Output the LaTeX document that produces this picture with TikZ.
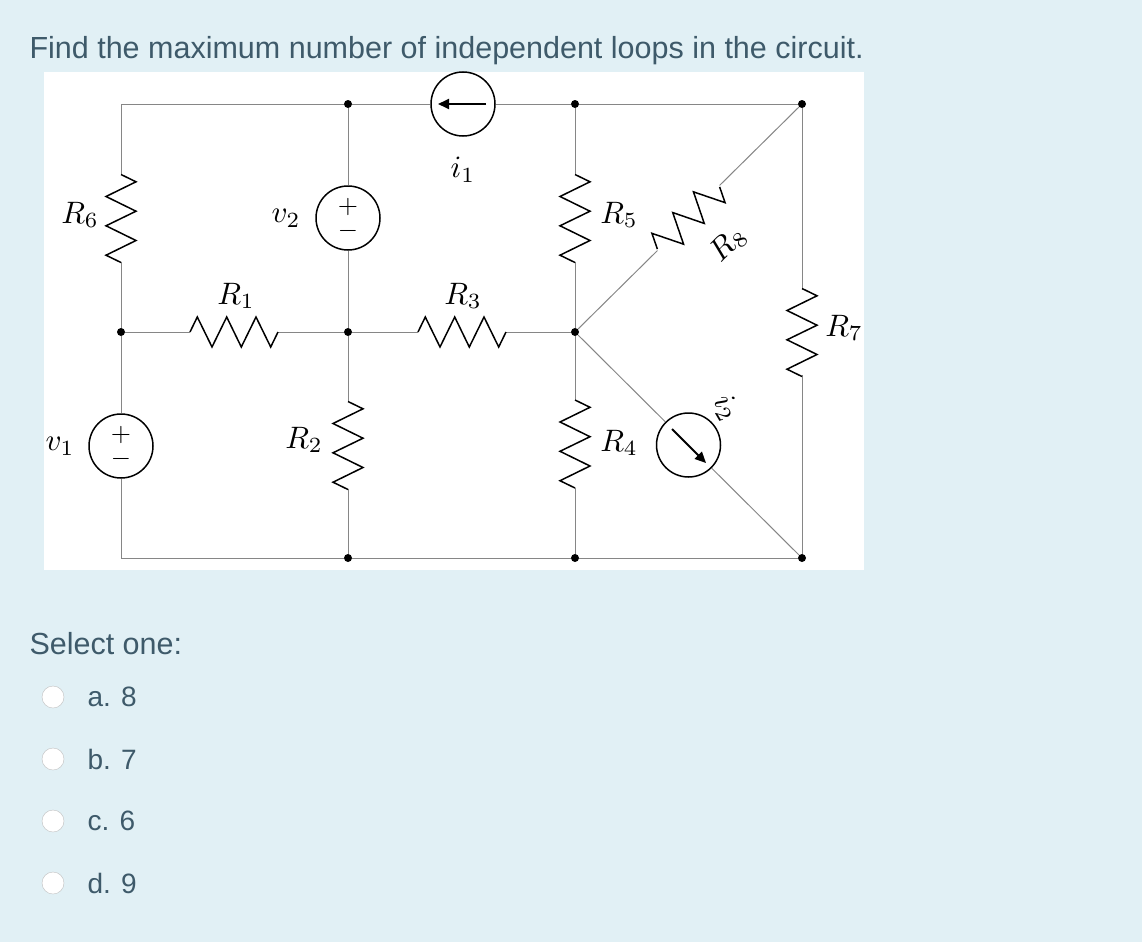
\documentclass[tikz,border=0pt]{standalone}
\usepackage{fontspec}
\usepackage{graphicx}
\setsansfont{Liberation Sans}
\usetikzlibrary{arrows.meta}
\definecolor{bgc}{HTML}{E1F0F5}
\definecolor{txt}{HTML}{3E5A6A}
\newcommand{\lblx}[1]{\scalebox{3.1}{$#1$}}
\newcommand{\sgnx}[1]{\scalebox{2.6}{$#1$}}
\tikzset{
  wire/.style={draw=gray!95, line width=1pt},
  comp/.style={draw=black, line width=1.5pt, line join=miter},
  dot/.style={circle, fill=black, inner sep=0pt, minimum size=8pt},
  lab/.style={inner sep=1pt},
  q/.style={font=\sffamily\fontsize{30.5}{34}\selectfont, text=txt, anchor=west},
  ans/.style={font=\sffamily\fontsize{28}{32}\selectfont, text=txt, anchor=west},
  radio/.style={circle, draw=gray!50, fill=white, minimum size=22pt, inner sep=0pt},
  res/.pic={\draw[comp] (-44,0) -- (-36.7,-15) -- (-22,15) -- (-7.3,-15) -- (7.3,15) -- (22,-15) -- (36.7,15) -- (44,0);}
}
\begin{document}
\begin{tikzpicture}[x=1pt,y=-1pt]
\fill[bgc] (0,0) rectangle (1142,942);
\useasboundingbox (0,0) rectangle (1142,942);
\fill[white] (44,72) rectangle (864,570);
\node[q] (title) at (26,51) {Find the maximum number of independent loops in the circuit.};
% junctions
\node[dot] (t2) at (348,104) {}; \node[dot] (t3) at (575,104) {}; \node[dot] (t4) at (802,104) {};
\node[dot] (m1) at (121,332) {}; \node[dot] (m2) at (348,332) {}; \node[dot] (m3) at (575,332) {};
\node[dot] (b2) at (348,558) {}; \node[dot] (b3) at (575,558) {}; \node[dot] (b4) at (802,558) {};
\coordinate (t1) at (121,104); \coordinate (b1) at (121,558);
% sources
\node[circle, comp, minimum size=64pt, inner sep=0pt] (i1) at (463,104) {};
\node[circle, comp, minimum size=64pt, inner sep=0pt] (v2) at (348,218) {};
\node[circle, comp, minimum size=64pt, inner sep=0pt] (v1) at (121,446) {};
\node[circle, comp, minimum size=64pt, inner sep=0pt] (i2) at (688.5,445) {};
\node[inner sep=0pt] at (348,207) {\sgnx{+}};
\node[inner sep=0pt] at (348,231) {\sgnx{-}};
\node[inner sep=0pt] at (121,435) {\sgnx{+}};
\node[inner sep=0pt] at (121,459) {\sgnx{-}};
\draw[comp, line width=1.8pt, -{Triangle[length=11pt,width=10pt]}] (486,104) -- (438,104);
\draw[comp, line width=1.8pt, -{Triangle[length=11pt,width=10pt]}] (672,429) -- (706,463);
% wires
\draw[wire] (t1) -- (t2) -- (i1.west);
\draw[wire] (i1.east) -- (t3) -- (t4);
\draw[wire] (b1) -- (b2) -- (b3) -- (b4);
\draw[wire] (t1) -- (121,175); \draw[wire] (121,262) -- (m1) -- (v1.north); \draw[wire] (v1.south) -- (b1);
\draw[wire] (m1) -- (190,332); \draw[wire] (278,332) -- (m2) -- (418,332); \draw[wire] (506,332) -- (m3);
\draw[wire] (t2) -- (v2.north); \draw[wire] (v2.south) -- (m2) -- (348,402); \draw[wire] (348,489) -- (b2);
\draw[wire] (t3) -- (575,175); \draw[wire] (575,262) -- (m3) -- (575,400); \draw[wire] (575,488) -- (b3);
\draw[wire] (t4) -- (802,290); \draw[wire] (802,375) -- (b4);
\draw[wire] (m3) -- (657.4,250.6); \draw[wire] (719.6,185.4) -- (t4);
\draw[wire] (m3) -- (i2.north west); \draw[wire] (i2.south east) -- (b4);
% resistors
\pic[rotate=90] at (121,218.5) {res};
\pic[rotate=90] at (575,218.5) {res};
\pic[rotate=90] at (575,444) {res};
\pic[rotate=90] at (348,445.5) {res};
\pic[rotate=90] at (802,332.5) {res};
\pic at (234,332) {res};
\pic at (462,332) {res};
\pic[rotate=45] at (688.5,218) {res};
% labels
\node[lab] (lR6) at (80,215) {\lblx{R_6}};
\node[lab] (lR5) at (619,215) {\lblx{R_5}};
\node[lab] (lR4) at (619,443) {\lblx{R_4}};
\node[lab] (lR2) at (304,440) {\lblx{R_2}};
\node[lab] (lR7) at (844,328) {\lblx{R_7}};
\node[lab] (lR1) at (236,296) {\lblx{R_1}};
\node[lab] (lR3) at (463,296) {\lblx{R_3}};
\node[lab] (li1) at (463,170) {\lblx{i_1}};
\node[lab] (lv2) at (286,218) {\lblx{v_2}};
\node[lab] (lv1) at (60,446) {\lblx{v_1}};
\node[lab, rotate=45] (lR8) at (728,244) {\lblx{R_8}};
\node[lab, rotate=-60] (li2) at (726,408) {\lblx{i_2}};
% answers
\node[q] (sel) at (26,644) {Select one:};
\foreach \y/\t in {697/a. 8, 759/b. 7, 821/c. 6, 883/d. 9}{
  \node[radio] at (53,\y) {};
  \node[ans] at (84,\y) {\t};
}
\end{tikzpicture}
\end{document}
